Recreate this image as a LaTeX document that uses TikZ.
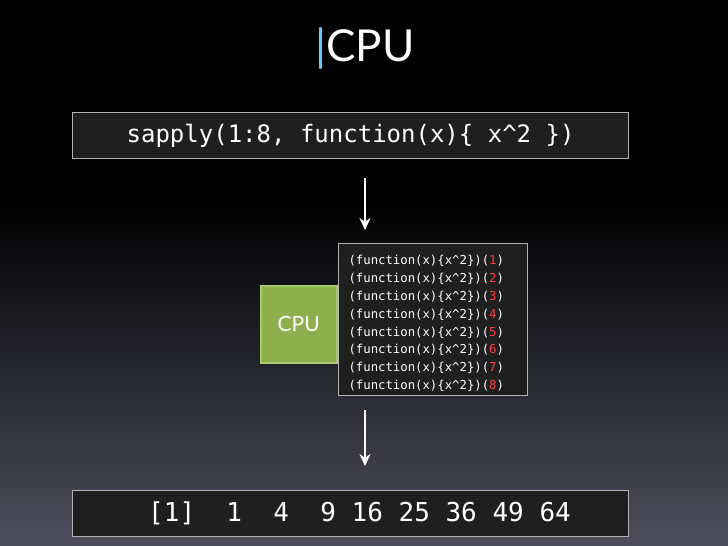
\documentclass[tikz,border=0pt]{standalone}
\usepackage{fontspec}
\usetikzlibrary{arrows.meta}
\setmainfont{Lato}
\setmonofont{DejaVu Sans Mono}
\begin{document}
\begin{tikzpicture}[x=1pt,y=-1pt,
  codebox/.style={draw=gray!60,line width=1.2pt,fill=black!88},
  arr/.style={line width=2.5pt,-{Stealth[length=12pt,width=11pt]},white}]
\useasboundingbox (0,0) rectangle (728,546);
\fill[black] (0,0) rectangle (728,200);
\shade[top color=black,bottom color={rgb,255:red,78;green,78;blue,94}] (0,200) rectangle (728,546);
\node[text=white,font=\fontsize{44}{48}\selectfont] (title) at (365,48) {\textcolor{blue!35!cyan!60!white}{|}CPU};
\node[codebox,minimum width=556,minimum height=46,anchor=north west] (top) at (72,112) {};
\node[text=white,font=\ttfamily\fontsize{24}{28}\selectfont] (toptext) at (top.center) {sapply(1:8, function(x)\{ x\^{}2 \})};
\coordinate (a1s) at (365,178); \coordinate (a1e) at (365,230);
\draw[arr] (a1s) -- (a1e);
\node[codebox,line width=0.8pt,minimum width=189,minimum height=152,anchor=north west] (code) at (338,243) {};
\node[text=white,anchor=north west,font=\ttfamily\fontsize{12.3}{17.8}\selectfont,align=left] (codetext) at (345,252) {%
(function(x)\{x\^{}2\})(\textcolor{red!75!white}{1})\\
(function(x)\{x\^{}2\})(\textcolor{red!75!white}{2})\\
(function(x)\{x\^{}2\})(\textcolor{red!75!white}{3})\\
(function(x)\{x\^{}2\})(\textcolor{red!75!white}{4})\\
(function(x)\{x\^{}2\})(\textcolor{red!75!white}{5})\\
(function(x)\{x\^{}2\})(\textcolor{red!75!white}{6})\\
(function(x)\{x\^{}2\})(\textcolor{red!75!white}{7})\\
(function(x)\{x\^{}2\})(\textcolor{red!75!white}{8})};
\node[draw={rgb,255:red,170;green,200;blue,110},line width=1.5pt,fill={rgb,255:red,142;green,176;blue,78},minimum width=76,minimum height=77,anchor=north west] (cpu) at (260,285) {};
\node[text=white,font=\fontsize{21}{24}\selectfont] (cputext) at (cpu.center) {CPU};
\coordinate (a2s) at (365,410); \coordinate (a2e) at (365,466);
\draw[arr] (a2s) -- (a2e);
\node[codebox,minimum width=556,minimum height=46,anchor=north west] (bot) at (72,490) {};
\node[text=white,anchor=west,inner sep=0pt,font=\ttfamily\fontsize{26}{30}\selectfont] (bottext) at (148,513) {[1]\ \ 1\ \ 4\ \ 9 16 25 36 49 64};
\end{tikzpicture}
\end{document}
